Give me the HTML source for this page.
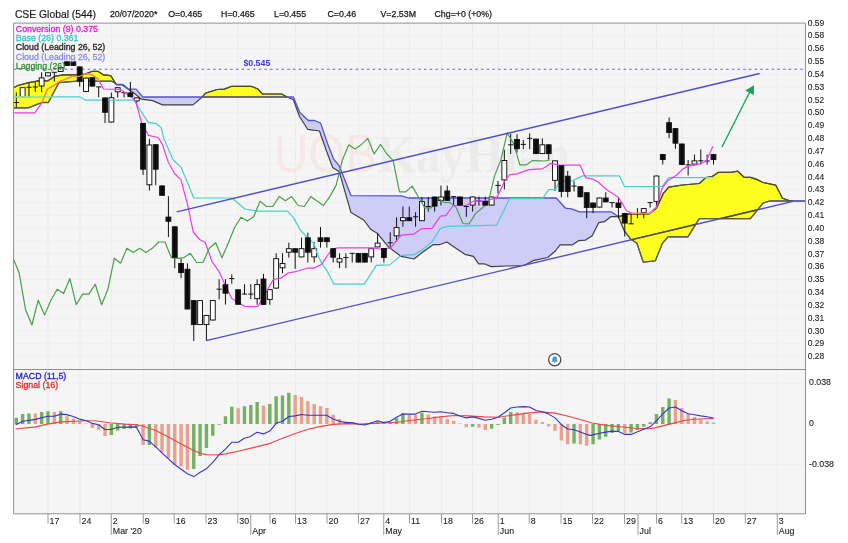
<!DOCTYPE html>
<html lang="en"><head><meta charset="utf-8"><title>CSE Global (544)</title>
<style>
html,body{margin:0;padding:0;background:#fff;}
body{width:848px;height:543px;overflow:hidden;position:relative;font-family:"Liberation Sans", sans-serif;}
svg text{white-space:pre;}
</style></head><body>
<svg width="848" height="543" viewBox="0 0 848 543" style="position:absolute;left:0;top:0;font-family:'Liberation Sans', sans-serif">
<defs>
<clipPath id="cm"><rect x="13.6" y="23.1" width="791.9" height="346.4"/></clipPath>
<clipPath id="cd"><rect x="13.6" y="369.5" width="791.9" height="144.29999999999995"/></clipPath>
</defs>
<rect x="0" y="0" width="848" height="543" fill="#ffffff"/>
<rect x="13.6" y="23.1" width="791.9" height="490.69999999999993" fill="#f5f5f5"/>
<path d="M48.00 23.1V513.8M80.00 23.1V513.8M111.25 23.1V513.8M143.25 23.1V513.8M174.25 23.1V513.8M206.00 23.1V513.8M237.75 23.1V513.8M270.00 23.1V513.8M295.50 23.1V513.8M327.00 23.1V513.8M358.50 23.1V513.8M383.75 23.1V513.8M409.50 23.1V513.8M441.50 23.1V513.8M472.50 23.1V513.8M498.25 23.1V513.8M529.25 23.1V513.8M561.00 23.1V513.8M592.50 23.1V513.8M624.50 23.1V513.8M656.50 23.1V513.8M681.75 23.1V513.8M713.50 23.1V513.8M745.25 23.1V513.8M777.25 23.1V513.8" stroke="#ebebeb" stroke-width="1" fill="none"/>
<path d="M13.6 35.73H805.5M13.6 48.56H805.5M13.6 61.39H805.5M13.6 74.22H805.5M13.6 87.05H805.5M13.6 99.88H805.5M13.6 112.71H805.5M13.6 125.54H805.5M13.6 138.37H805.5M13.6 151.20H805.5M13.6 164.03H805.5M13.6 176.86H805.5M13.6 189.69H805.5M13.6 202.52H805.5M13.6 215.35H805.5M13.6 228.18H805.5M13.6 241.01H805.5M13.6 253.84H805.5M13.6 266.67H805.5M13.6 279.50H805.5M13.6 292.33H805.5M13.6 305.16H805.5M13.6 317.99H805.5M13.6 330.82H805.5M13.6 343.65H805.5M13.6 356.48H805.5M13.6 383.30H805.5M13.6 424.00H805.5M13.6 464.60H805.5" stroke="#efefef" stroke-width="1" fill="none"/>
<text x="274" y="172" font-size="53" fill="#f7e8e8" font-family='"Liberation Sans", sans-serif' textLength="103" lengthAdjust="spacingAndGlyphs">UOB</text>
<text x="377" y="172" font-size="53" font-weight="bold" fill="#ececec" font-family='"Liberation Serif", serif' textLength="193" lengthAdjust="spacingAndGlyphs">KayHian</text>
<g clip-path="url(#cm)">
<polygon points="13.5,87.8 18.5,85.3 28.4,82.7 38.4,80.9 42.6,80.9 48.0,80.8 48.3,80.6 55.0,76.2 58.9,75.6 63.9,74.9 66.7,74.9 76.7,74.9 85.2,74.1 92.3,71.3 97.9,71.3 103.6,74.9 110.7,75.6 112.0,77.7 115.8,83.8 115.8,83.8 112.0,81.2 110.7,81.2 103.6,81.2 97.9,81.2 92.3,81.2 85.2,81.2 76.7,81.2 66.7,82.0 63.9,82.3 58.9,82.7 55.0,90.0 48.3,102.5 48.0,102.5 42.6,102.5 38.4,103.9 28.4,107.8 18.5,107.8 13.5,107.8" fill="#fdfd1e"/>
<polygon points="115.8,83.8 116.4,84.8 116.5,84.8 122.0,84.8 123.0,85.5 128.5,89.4 130.0,90.5 134.5,93.5 136.0,94.8 141.3,99.2 142.7,99.4 152.6,100.6 162.5,104.9 193.0,104.9 202.3,97.0 202.3,97.0 193.0,97.0 162.5,97.0 152.6,97.0 142.7,97.0 141.3,95.4 136.0,89.2 134.5,89.2 130.0,89.0 128.5,89.0 123.0,84.4 122.0,84.4 116.5,84.3 116.4,84.2 115.8,83.8" fill="#cdcdf7"/>
<polygon points="202.3,97.0 205.3,93.3 217.0,89.5 224.4,89.1 231.8,86.3 250.9,86.3 257.3,88.7 262.6,94.0 281.7,94.0 287.0,97.0 287.0,97.0 281.7,97.0 262.6,97.0 257.3,97.0 250.9,97.0 231.8,97.0 224.4,97.0 217.0,97.0 205.3,97.0 202.3,97.0" fill="#fdfd1e"/>
<polygon points="287.0,97.0 293.4,99.7 299.5,116.5 299.8,117.0 307.6,129.3 308.3,129.4 314.6,130.3 319.5,131.0 320.6,134.2 325.6,148.5 327.4,153.3 332.7,167.6 333.7,168.2 339.3,171.8 351.0,212.6 363.7,220.0 370.6,229.2 377.1,233.2 388.5,246.9 401.2,256.4 401.5,256.5 408.5,257.9 414.0,259.0 422.5,252.2 433.1,244.7 439.4,244.7 446.9,242.0 452.2,245.8 464.9,254.3 473.4,256.4 478.7,263.8 484.0,263.8 491.4,266.6 507.4,266.0 524.3,265.5 532.8,260.7 547.7,257.5 555.4,251.0 556.2,249.9 560.1,244.8 565.6,244.8 571.3,244.8 572.4,244.8 579.0,240.6 579.8,240.5 585.6,240.1 592.2,235.8 598.8,222.6 604.4,221.7 611.0,216.5 618.1,216.7 618.3,216.7 618.4,216.6 618.4,216.6 618.3,216.5 618.1,216.4 611.0,211.8 604.4,211.8 598.8,211.8 592.2,211.8 585.6,211.8 579.8,211.8 579.0,211.5 572.4,209.3 571.3,208.9 565.6,208.2 560.1,202.2 556.2,198.0 555.4,198.0 547.7,198.0 532.8,198.0 524.3,198.0 507.4,198.0 491.4,198.0 484.0,198.0 478.7,198.0 473.4,198.0 464.9,198.0 452.2,198.0 446.9,198.0 439.4,198.0 433.1,198.0 422.5,198.0 414.0,198.0 408.5,198.0 401.5,195.8 401.2,195.8 388.5,195.7 377.1,195.7 370.6,195.7 363.7,195.7 351.0,195.6 339.3,165.9 333.7,159.2 332.7,156.7 327.4,143.2 325.6,137.9 320.6,123.1 319.5,122.6 314.6,120.5 308.3,120.5 307.6,119.8 299.8,112.5 299.5,111.8 293.4,97.0 287.0,97.0" fill="#cdcdf7"/>
<polygon points="618.4,216.6 624.1,215.2 629.4,213.9 630.5,213.9 636.9,213.9 643.3,213.9 649.3,213.9 655.3,209.1 656.4,208.2 662.4,195.4 663.3,193.5 668.1,187.8 668.7,187.1 682.5,185.0 687.9,184.5 699.3,183.5 699.4,183.5 705.8,177.6 712.2,176.5 718.5,172.3 731.3,172.3 737.6,171.2 744.0,177.2 750.4,177.4 756.7,179.4 763.1,182.5 769.5,183.9 775.8,185.2 782.5,198.3 789.0,200.5 792.8,201.0 792.8,201.0 789.0,201.0 782.5,201.0 775.8,201.0 769.5,201.0 763.1,203.1 756.7,210.9 750.4,218.6 744.0,218.6 737.6,218.6 731.3,218.6 718.5,218.6 712.2,218.6 705.8,218.6 699.4,218.6 699.3,218.6 687.9,236.9 682.5,236.9 668.7,236.9 668.1,236.9 663.3,242.4 662.4,243.4 656.4,258.1 655.3,260.8 649.3,261.5 643.3,262.2 636.9,243.2 630.5,239.0 629.4,237.5 624.1,230.5 618.4,216.6" fill="#fdfd1e"/>
<polyline points="13.5,87.8 18.5,85.3 28.4,82.7 38.4,80.9 48.0,80.8 55.0,76.2 63.9,74.9 76.7,74.9 85.2,74.1 92.3,71.3 97.9,71.3 103.6,74.9 110.7,75.6 116.4,84.8 122.0,84.8 130.0,90.5 134.5,93.5 141.3,99.2 152.6,100.6 162.5,104.9 193.0,104.9 202.3,97.0 205.3,93.3 217.0,89.5 224.4,89.1 231.8,86.3 250.9,86.3 257.3,88.7 262.6,94.0 281.7,94.0 287.0,97.0 293.4,99.7 299.5,116.5 307.6,129.3 319.5,131.0 325.6,148.5 332.7,167.6 339.3,171.8 351.0,212.6 363.7,220.0 370.6,229.2 377.1,233.2 388.5,246.9 401.2,256.4 414.0,259.0 422.5,252.2 433.1,244.7 439.4,244.7 446.9,242.0 452.2,245.8 464.9,254.3 473.4,256.4 478.7,263.8 484.0,263.8 491.4,266.6 507.4,266.0 524.3,265.5 532.8,260.7 547.7,257.5 555.4,251.0 560.1,244.8 572.4,244.8 579.0,240.6 585.6,240.1 592.2,235.8 598.8,222.6 604.4,221.7 611.0,216.5 618.1,216.7 629.4,213.9 649.3,213.9 656.4,208.2 663.3,193.5 668.7,187.1 682.5,185.0 699.4,183.5 705.8,177.6 712.2,176.5 718.5,172.3 731.3,172.3 737.6,171.2 744.0,177.2 750.4,177.4 756.7,179.4 763.1,182.5 775.8,185.2 782.5,198.3 789.0,200.5 792.8,201.0 806.0,201.0" fill="none" stroke="#404040" stroke-width="1.2" stroke-linejoin="round"/>
<polyline points="13.5,107.8 28.4,107.8 38.4,103.9 42.6,102.5 48.3,102.5 58.9,82.7 66.7,82.0 76.7,81.2 112.0,81.2 116.5,84.3 123.0,84.4 128.5,89.0 136.0,89.2 142.7,97.0 293.4,97.0 299.8,112.5 308.3,120.5 314.6,120.5 320.6,123.1 327.4,143.2 333.7,159.2 339.3,165.9 351.0,195.6 401.5,195.8 408.5,198.0 556.2,198.0 565.6,208.2 571.3,208.9 579.8,211.8 611.0,211.8 618.3,216.5 624.1,230.5 630.5,239.0 636.9,243.2 643.3,262.2 655.3,260.8 662.4,243.4 668.1,236.9 687.9,236.9 699.3,218.6 750.4,218.6 763.1,203.1 769.5,201.0 806.0,201.0" fill="none" stroke="#5252d4" stroke-width="1.3" stroke-linejoin="round"/>
<clipPath id="cy"><polygon points="13.5,87.8 18.5,85.3 28.4,82.7 38.4,80.9 42.6,80.9 48.0,80.8 48.3,80.6 55.0,76.2 58.9,75.6 63.9,74.9 66.7,74.9 76.7,74.9 85.2,74.1 92.3,71.3 97.9,71.3 103.6,74.9 110.7,75.6 112.0,77.7 115.8,83.8 115.8,83.8 112.0,81.2 110.7,81.2 103.6,81.2 97.9,81.2 92.3,81.2 85.2,81.2 76.7,81.2 66.7,82.0 63.9,82.3 58.9,82.7 55.0,90.0 48.3,102.5 48.0,102.5 42.6,102.5 38.4,103.9 28.4,107.8 18.5,107.8 13.5,107.8"/><polygon points="202.3,97.0 205.3,93.3 217.0,89.5 224.4,89.1 231.8,86.3 250.9,86.3 257.3,88.7 262.6,94.0 281.7,94.0 287.0,97.0 287.0,97.0 281.7,97.0 262.6,97.0 257.3,97.0 250.9,97.0 231.8,97.0 224.4,97.0 217.0,97.0 205.3,97.0 202.3,97.0"/><polygon points="618.4,216.6 624.1,215.2 629.4,213.9 630.5,213.9 636.9,213.9 643.3,213.9 649.3,213.9 655.3,209.1 656.4,208.2 662.4,195.4 663.3,193.5 668.1,187.8 668.7,187.1 682.5,185.0 687.9,184.5 699.3,183.5 699.4,183.5 705.8,177.6 712.2,176.5 718.5,172.3 731.3,172.3 737.6,171.2 744.0,177.2 750.4,177.4 756.7,179.4 763.1,182.5 769.5,183.9 775.8,185.2 782.5,198.3 789.0,200.5 792.8,201.0 792.8,201.0 789.0,201.0 782.5,201.0 775.8,201.0 769.5,201.0 763.1,203.1 756.7,210.9 750.4,218.6 744.0,218.6 737.6,218.6 731.3,218.6 718.5,218.6 712.2,218.6 705.8,218.6 699.4,218.6 699.3,218.6 687.9,236.9 682.5,236.9 668.7,236.9 668.1,236.9 663.3,242.4 662.4,243.4 656.4,258.1 655.3,260.8 649.3,261.5 643.3,262.2 636.9,243.2 630.5,239.0 629.4,237.5 624.1,230.5 618.4,216.6"/></clipPath>
<polyline points="13.5,107.8 18.5,107.8 28.4,107.8 38.4,103.9 42.6,102.5 48.0,102.5 48.3,102.5 55.0,90.0 58.9,82.7 63.9,82.3 66.7,82.0 76.7,81.2 85.2,81.2 92.3,81.2 97.9,81.2 103.6,81.2 110.7,81.2 112.0,81.2 115.8,83.8" fill="none" stroke="#606026" stroke-width="1.15" stroke-linejoin="round"/>
<polyline points="13.5,87.8 18.5,85.3 28.4,82.7 38.4,80.9 42.6,80.9 48.0,80.8 48.3,80.6 55.0,76.2 58.9,75.6 63.9,74.9 66.7,74.9 76.7,74.9 85.2,74.1 92.3,71.3 97.9,71.3 103.6,74.9 110.7,75.6 112.0,77.7 115.8,83.8" fill="none" stroke="#50501e" stroke-width="1.15" stroke-linejoin="round"/>
<polyline points="202.3,97.0 205.3,97.0 217.0,97.0 224.4,97.0 231.8,97.0 250.9,97.0 257.3,97.0 262.6,97.0 281.7,97.0 287.0,97.0" fill="none" stroke="#606026" stroke-width="1.15" stroke-linejoin="round"/>
<polyline points="202.3,97.0 205.3,93.3 217.0,89.5 224.4,89.1 231.8,86.3 250.9,86.3 257.3,88.7 262.6,94.0 281.7,94.0 287.0,97.0" fill="none" stroke="#50501e" stroke-width="1.15" stroke-linejoin="round"/>
<polyline points="618.4,216.6 624.1,230.5 629.4,237.5 630.5,239.0 636.9,243.2 643.3,262.2 649.3,261.5 655.3,260.8 656.4,258.1 662.4,243.4 663.3,242.4 668.1,236.9 668.7,236.9 682.5,236.9 687.9,236.9 699.3,218.6 699.4,218.6 705.8,218.6 712.2,218.6 718.5,218.6 731.3,218.6 737.6,218.6 744.0,218.6 750.4,218.6 756.7,210.9 763.1,203.1 769.5,201.0 775.8,201.0 782.5,201.0 789.0,201.0 792.8,201.0" fill="none" stroke="#606026" stroke-width="1.15" stroke-linejoin="round"/>
<polyline points="618.4,216.6 624.1,215.2 629.4,213.9 630.5,213.9 636.9,213.9 643.3,213.9 649.3,213.9 655.3,209.1 656.4,208.2 662.4,195.4 663.3,193.5 668.1,187.8 668.7,187.1 682.5,185.0 687.9,184.5 699.3,183.5 699.4,183.5 705.8,177.6 712.2,176.5 718.5,172.3 731.3,172.3 737.6,171.2 744.0,177.2 750.4,177.4 756.7,179.4 763.1,182.5 769.5,183.9 775.8,185.2 782.5,198.3 789.0,200.5 792.8,201.0" fill="none" stroke="#50501e" stroke-width="1.15" stroke-linejoin="round"/>
<path d="M16.30 92.6V107.5M13.70 102.5H18.90M22.64 87.3V97.1M28.98 82.5V97.5M26.38 87.3H31.58M35.31 82.0V92.0M32.71 87.0H37.91M41.65 72.3V92.0M47.99 72.4V76.3M54.33 72.3V81.6M51.73 72.3H56.93M60.67 67.3V71.9M67.00 61.4V65.8M73.34 61.4V65.8M79.68 66.5V86.6M86.02 77.7V92.0M92.36 77.2V86.5M98.69 86.9V97.2M96.09 86.9H101.29M105.03 97.5V123.0M111.37 92.6V122.4M117.71 87.3V97.5M124.05 92.6V97.5M121.45 92.6H126.65M130.38 82.0V97.0M136.72 97.5V106.3M143.06 123.0V174.9M149.40 138.9V190.5M155.74 144.3V185.2M162.07 185.5V195.7M168.41 196.2V237.1M174.75 226.4V268.3M181.09 258.4V278.3M187.43 263.4V309.4M193.76 300.2V341.0M200.10 300.2V325.0M206.44 315.0V341.0M212.78 300.2V320.4M219.12 279.2V299.3M216.52 289.2H221.72M225.45 279.2V304.6M231.79 274.5V283.8M229.19 278.6H234.39M238.13 289.4V304.7M244.47 284.2V294.1M241.87 294.1H247.07M250.81 284.2V299.1M248.21 294.1H253.41M257.14 279.3V304.8M263.48 273.9V304.8M269.82 289.3V304.8M276.16 253.3V288.5M282.50 253.3V273.2M288.83 242.7V257.6M295.17 248.3V268.9M301.51 237.7V257.3M307.85 232.7V262.5M314.19 242.0V262.5M320.52 227.0V247.6M326.86 237.4V247.6M333.20 248.3V262.5M339.54 253.3V268.2M345.88 253.3V268.2M343.28 257.6H348.48M352.21 253.3V262.5M349.61 253.3H354.81M358.55 253.0V262.5M364.89 253.0V262.5M371.23 248.3V262.5M377.57 233.5V247.3M383.90 248.1V262.5M390.24 232.4V248.0M387.64 242.8H392.84M396.58 217.3V241.7M402.92 206.5V226.8M409.26 206.5V221.1M415.59 212.2V226.8M412.99 216.8H418.19M421.93 197.0V221.1M428.27 197.0V211.6M425.67 206.5H430.87M434.61 196.6V211.6M440.95 185.6V205.5M447.28 185.6V200.8M453.62 196.6V205.5M451.02 196.6H456.22M459.96 196.6V205.5M466.30 206.5V216.8M463.70 206.5H468.90M472.64 196.6V211.6M478.97 196.6V205.5M476.37 201.0H481.57M485.31 196.6V205.5M491.65 196.6V205.5M497.99 181.0V193.5M495.39 185.4H500.59M504.33 149.8V189.5M510.66 133.5V154.0M508.06 144.8H513.26M517.00 134.2V152.6M523.34 139.9V149.1M520.74 144.4H525.94M529.68 133.5V149.1M527.08 138.4H532.28M536.02 138.7V154.0M542.35 138.4V154.0M548.69 144.4V159.7M555.03 160.4V191.0M561.37 165.4V197.2M567.71 171.0V197.2M574.04 181.2V191.5M571.44 186.1H576.64M580.38 186.3V197.2M586.72 192.3V218.2M593.06 202.6V213.2M599.40 197.6V207.5M605.73 192.3V202.3M612.07 202.6V207.5M609.47 202.6H614.67M618.41 197.6V218.2M624.75 213.2V236.5M631.09 213.9V223.8M628.49 223.8H633.69M637.42 208.2V218.2M634.82 213.6H640.02M643.76 208.2V218.4M650.10 202.6V207.5M647.50 202.6H652.70M656.44 175.6V206.8M662.78 154.1V164.5M669.11 117.5V138.2M675.45 128.2V148.9M681.79 143.6V164.9M688.13 160.0V175.5M685.53 164.9H690.73M694.47 154.5V164.5M700.80 149.5V164.5M698.20 160.8H703.40M707.14 154.5V164.5M704.54 161.0H709.74M713.48 154.1V164.5" stroke="#111" stroke-width="1" fill="none"/>
<rect x="20.19" y="87.7" width="4.9" height="9.0" fill="#ffffff" stroke="#000" stroke-width="0.9"/><rect x="39.20" y="77.9" width="4.9" height="8.1" fill="#ffffff" stroke="#000" stroke-width="0.9"/><rect x="45.54" y="72.8" width="4.9" height="3.1" fill="#ffffff" stroke="#000" stroke-width="0.9"/><rect x="58.22" y="67.7" width="4.9" height="3.8" fill="#ffffff" stroke="#000" stroke-width="0.9"/><rect x="83.57" y="78.1" width="4.9" height="13.5" fill="#ffffff" stroke="#000" stroke-width="0.9"/><rect x="108.92" y="97.7" width="4.9" height="24.3" fill="#ffffff" stroke="#000" stroke-width="0.9"/><rect x="115.26" y="87.7" width="4.9" height="4.1" fill="#ffffff" stroke="#000" stroke-width="0.9"/><rect x="134.27" y="97.9" width="4.9" height="3.0" fill="#ffffff" stroke="#000" stroke-width="0.9"/><rect x="146.95" y="145.0" width="4.9" height="39.8" fill="#ffffff" stroke="#000" stroke-width="0.9"/><rect x="197.65" y="300.6" width="4.9" height="24.0" fill="#ffffff" stroke="#000" stroke-width="0.9"/><rect x="203.99" y="315.4" width="4.9" height="9.2" fill="#ffffff" stroke="#000" stroke-width="0.9"/><rect x="210.33" y="300.6" width="4.9" height="19.4" fill="#ffffff" stroke="#000" stroke-width="0.9"/><rect x="254.69" y="284.6" width="4.9" height="14.1" fill="#ffffff" stroke="#000" stroke-width="0.9"/><rect x="267.37" y="289.7" width="4.9" height="9.7" fill="#ffffff" stroke="#000" stroke-width="0.9"/><rect x="273.71" y="258.7" width="4.9" height="29.4" fill="#ffffff" stroke="#000" stroke-width="0.9"/><rect x="280.05" y="263.6" width="4.9" height="4.2" fill="#ffffff" stroke="#000" stroke-width="0.9"/><rect x="286.38" y="248.7" width="4.9" height="3.5" fill="#ffffff" stroke="#000" stroke-width="0.9"/><rect x="299.06" y="248.7" width="4.9" height="8.2" fill="#ffffff" stroke="#000" stroke-width="0.9"/><rect x="311.74" y="248.7" width="4.9" height="8.2" fill="#ffffff" stroke="#000" stroke-width="0.9"/><rect x="337.09" y="258.7" width="4.9" height="3.4" fill="#ffffff" stroke="#000" stroke-width="0.9"/><rect x="368.78" y="248.7" width="4.9" height="8.2" fill="#ffffff" stroke="#000" stroke-width="0.9"/><rect x="375.12" y="243.1" width="4.9" height="3.8" fill="#ffffff" stroke="#000" stroke-width="0.9"/><rect x="394.13" y="227.6" width="4.9" height="8.3" fill="#ffffff" stroke="#000" stroke-width="0.9"/><rect x="400.47" y="217.7" width="4.9" height="3.0" fill="#ffffff" stroke="#000" stroke-width="0.9"/><rect x="419.48" y="201.6" width="4.9" height="19.1" fill="#ffffff" stroke="#000" stroke-width="0.9"/><rect x="438.50" y="197.0" width="4.9" height="3.4" fill="#ffffff" stroke="#000" stroke-width="0.9"/><rect x="470.19" y="197.0" width="4.9" height="8.1" fill="#ffffff" stroke="#000" stroke-width="0.9"/><rect x="489.20" y="197.0" width="4.9" height="8.1" fill="#ffffff" stroke="#000" stroke-width="0.9"/><rect x="501.88" y="160.5" width="4.9" height="19.4" fill="#ffffff" stroke="#000" stroke-width="0.9"/><rect x="539.90" y="144.8" width="4.9" height="8.8" fill="#ffffff" stroke="#000" stroke-width="0.9"/><rect x="552.58" y="160.8" width="4.9" height="19.5" fill="#ffffff" stroke="#000" stroke-width="0.9"/><rect x="596.95" y="198.0" width="4.9" height="9.1" fill="#ffffff" stroke="#000" stroke-width="0.9"/><rect x="641.31" y="208.6" width="4.9" height="3.8" fill="#ffffff" stroke="#000" stroke-width="0.9"/><rect x="653.99" y="176.0" width="4.9" height="25.4" fill="#ffffff" stroke="#000" stroke-width="0.9"/><rect x="692.02" y="160.9" width="4.9" height="3.2" fill="#ffffff" stroke="#000" stroke-width="0.9"/>
<path d="M13.6 69.3H805.5" stroke="#665eda" stroke-width="1.1" stroke-dasharray="2.5 3.2" fill="none"/>
<polyline points="13.5,96.8 79.5,96.8 85.2,100.1 130.0,100.1 134.0,100.5 139.1,108.4 148.4,122.6 155.5,123.3 161.1,127.5 164.0,138.9 173.2,160.0 181.0,167.1 193.8,198.0 232.0,198.0 244.9,209.0 257.6,211.1 287.3,211.1 293.7,217.9 300.0,229.6 308.5,239.0 314.0,243.2 317.0,253.2 321.3,262.5 326.7,270.3 333.8,284.1 364.3,284.1 376.3,265.4 389.6,264.9 401.2,255.4 414.0,254.7 422.5,249.6 432.0,241.6 440.5,228.4 447.9,226.3 496.7,225.2 509.5,198.7 542.4,198.7 548.8,189.6 555.7,189.6 559.2,181.3 572.7,180.6 582.6,175.9 619.5,175.9 624.5,186.5 662.1,186.5 668.7,177.6 713.5,177.6" fill="none" stroke="#45cfcf" stroke-width="1.2" stroke-linejoin="round"/>
<polyline points="13.5,112.9 34.8,112.9 41.2,103.9 47.6,89.0 54.0,85.5 58.9,82.0 72.4,76.3 79.5,76.3 86.6,73.4 92.4,75.0 98.0,79.1 103.6,89.0 120.0,89.3 128.5,95.0 135.6,100.6 141.3,121.9 148.4,135.4 158.3,137.5 162.5,144.6 168.2,162.0 174.6,173.5 181.0,179.9 188.1,206.8 193.2,232.0 199.5,239.5 205.1,242.3 212.2,262.0 219.3,271.9 225.5,286.0 232.0,298.8 238.5,302.5 245.1,306.5 257.9,306.5 267.1,290.2 273.5,279.3 281.3,278.1 287.7,273.2 295.5,271.7 306.8,268.2 313.9,268.2 321.0,264.6 332.3,249.0 338.0,247.9 373.5,247.9 380.0,249.0 390.6,247.9 401.2,235.2 414.0,234.1 421.4,228.8 432.0,228.4 440.5,216.1 445.8,215.7 453.2,205.5 466.0,205.5 473.4,201.2 487.0,201.1 497.5,196.6 504.4,181.5 509.8,174.6 516.9,173.9 528.9,169.6 542.4,168.9 550.9,163.3 559.4,165.1 580.0,165.1 585.7,177.7 592.6,179.1 598.2,182.0 606.7,189.8 618.1,196.9 626.6,210.8 632.3,213.3 649.3,213.3 656.4,207.2 662.1,188.4 667.6,180.8 676.1,175.5 682.5,169.1 688.8,165.9 697.3,164.6 706.2,161.3 712.9,146.3" fill="none" stroke="#ec3aec" stroke-width="1.2" stroke-linejoin="round"/>
<polyline points="12.9,257.7 19.2,273.0 25.5,309.4 31.9,325.0 38.2,300.2 44.6,315.0 50.9,300.2 57.2,289.2 63.6,293.6 69.9,278.6 76.2,304.7 82.6,294.1 88.9,294.1 95.3,284.2 101.6,304.8 107.9,289.3 114.3,258.3 120.6,263.2 126.9,248.3 133.3,252.6 139.6,248.3 146.0,252.6 152.3,248.3 158.6,242.0 165.0,242.0 171.3,257.6 177.7,258.3 184.0,257.6 190.3,253.3 196.7,262.5 203.0,262.5 209.3,248.3 215.7,242.7 222.0,257.8 228.4,242.8 234.7,227.2 241.0,217.3 247.4,221.1 253.7,216.8 260.0,201.2 266.4,206.5 272.7,206.5 279.1,196.6 285.4,200.8 291.7,196.6 298.1,205.5 304.4,206.5 310.7,196.6 317.1,201.0 323.4,205.5 329.8,196.6 336.1,185.4 342.4,160.1 348.8,144.8 355.1,149.1 361.5,144.4 367.8,138.4 374.1,154.0 380.5,144.4 386.8,154.0 393.1,160.4 399.5,191.8 405.8,191.8 412.2,186.1 418.5,197.2 424.8,207.9 431.2,207.9 437.5,197.6 443.8,202.3 450.2,202.6 456.5,207.9 462.9,223.5 469.2,223.8 475.5,213.6 481.9,208.2 488.2,202.6 494.6,175.6 500.9,159.9 507.2,132.8 513.6,143.6 519.9,164.9 526.2,164.9 532.6,160.5 538.9,160.8 545.3,161.0 549.6,159.9" fill="none" stroke="#4aa04a" stroke-width="1.2" stroke-linejoin="round"/>
<g opacity="0.93"><rect x="64.55" y="61.8" width="4.9" height="3.6" fill="#000000" stroke="#000" stroke-width="0.9"/><rect x="70.89" y="61.8" width="4.9" height="3.6" fill="#000000" stroke="#000" stroke-width="0.9"/><rect x="77.23" y="66.9" width="4.9" height="14.2" fill="#000000" stroke="#000" stroke-width="0.9"/><rect x="89.91" y="77.6" width="4.9" height="8.5" fill="#000000" stroke="#000" stroke-width="0.9"/><rect x="102.58" y="97.9" width="4.9" height="14.4" fill="#000000" stroke="#000" stroke-width="0.9"/><rect x="127.93" y="92.9" width="4.9" height="3.7" fill="#000000" stroke="#000" stroke-width="0.9"/><rect x="140.61" y="123.4" width="4.9" height="45.8" fill="#000000" stroke="#000" stroke-width="0.9"/><rect x="153.29" y="144.7" width="4.9" height="24.5" fill="#000000" stroke="#000" stroke-width="0.9"/><rect x="159.62" y="185.9" width="4.9" height="9.4" fill="#000000" stroke="#000" stroke-width="0.9"/><rect x="165.96" y="217.1" width="4.9" height="4.2" fill="#000000" stroke="#000" stroke-width="0.9"/><rect x="172.30" y="226.8" width="4.9" height="30.5" fill="#000000" stroke="#000" stroke-width="0.9"/><rect x="178.64" y="263.5" width="4.9" height="9.1" fill="#000000" stroke="#000" stroke-width="0.9"/><rect x="184.98" y="269.2" width="4.9" height="39.8" fill="#000000" stroke="#000" stroke-width="0.9"/><rect x="191.31" y="300.6" width="4.9" height="24.0" fill="#000000" stroke="#000" stroke-width="0.9"/><rect x="223.00" y="284.7" width="4.9" height="8.5" fill="#000000" stroke="#000" stroke-width="0.9"/><rect x="235.68" y="289.8" width="4.9" height="14.5" fill="#000000" stroke="#000" stroke-width="0.9"/><rect x="261.03" y="279.0" width="4.9" height="25.4" fill="#000000" stroke="#000" stroke-width="0.9"/><rect x="292.72" y="248.7" width="4.9" height="3.5" fill="#000000" stroke="#000" stroke-width="0.9"/><rect x="305.40" y="237.8" width="4.9" height="14.4" fill="#000000" stroke="#000" stroke-width="0.9"/><rect x="318.07" y="237.8" width="4.9" height="3.8" fill="#000000" stroke="#000" stroke-width="0.9"/><rect x="324.41" y="237.8" width="4.9" height="3.8" fill="#000000" stroke="#000" stroke-width="0.9"/><rect x="330.75" y="248.7" width="4.9" height="8.5" fill="#000000" stroke="#000" stroke-width="0.9"/><rect x="356.10" y="253.4" width="4.9" height="8.7" fill="#000000" stroke="#000" stroke-width="0.9"/><rect x="362.44" y="253.4" width="4.9" height="8.7" fill="#000000" stroke="#000" stroke-width="0.9"/><rect x="381.45" y="248.5" width="4.9" height="8.9" fill="#000000" stroke="#000" stroke-width="0.9"/><rect x="406.81" y="217.7" width="4.9" height="3.0" fill="#000000" stroke="#000" stroke-width="0.9"/><rect x="432.16" y="197.0" width="4.9" height="9.1" fill="#000000" stroke="#000" stroke-width="0.9"/><rect x="444.83" y="191.0" width="4.9" height="9.4" fill="#000000" stroke="#000" stroke-width="0.9"/><rect x="457.51" y="197.0" width="4.9" height="8.1" fill="#000000" stroke="#000" stroke-width="0.9"/><rect x="482.86" y="201.6" width="4.9" height="3.5" fill="#000000" stroke="#000" stroke-width="0.9"/><rect x="514.55" y="139.5" width="4.9" height="9.2" fill="#000000" stroke="#000" stroke-width="0.9"/><rect x="533.57" y="139.1" width="4.9" height="14.5" fill="#000000" stroke="#000" stroke-width="0.9"/><rect x="546.24" y="144.8" width="4.9" height="8.8" fill="#000000" stroke="#000" stroke-width="0.9"/><rect x="558.92" y="165.8" width="4.9" height="25.6" fill="#000000" stroke="#000" stroke-width="0.9"/><rect x="565.26" y="176.2" width="4.9" height="15.2" fill="#000000" stroke="#000" stroke-width="0.9"/><rect x="577.93" y="186.7" width="4.9" height="10.1" fill="#000000" stroke="#000" stroke-width="0.9"/><rect x="584.27" y="192.7" width="4.9" height="14.8" fill="#000000" stroke="#000" stroke-width="0.9"/><rect x="590.61" y="203.0" width="4.9" height="4.5" fill="#000000" stroke="#000" stroke-width="0.9"/><rect x="603.28" y="198.0" width="4.9" height="3.9" fill="#000000" stroke="#000" stroke-width="0.9"/><rect x="615.96" y="203.0" width="4.9" height="4.5" fill="#000000" stroke="#000" stroke-width="0.9"/><rect x="622.30" y="213.6" width="4.9" height="9.5" fill="#000000" stroke="#000" stroke-width="0.9"/><rect x="660.33" y="154.5" width="4.9" height="5.0" fill="#000000" stroke="#000" stroke-width="0.9"/><rect x="666.66" y="122.7" width="4.9" height="9.7" fill="#000000" stroke="#000" stroke-width="0.9"/><rect x="673.00" y="128.6" width="4.9" height="14.6" fill="#000000" stroke="#000" stroke-width="0.9"/><rect x="679.34" y="144.0" width="4.9" height="20.5" fill="#000000" stroke="#000" stroke-width="0.9"/><rect x="711.03" y="154.5" width="4.9" height="5.0" fill="#000000" stroke="#000" stroke-width="0.9"/></g>
<path d="M176.7 211.8L759.6 73.5" stroke="#504ccf" stroke-width="1.35" fill="none"/>
<path d="M206.1 340.7L793 201.4" stroke="#504ccf" stroke-width="1.35" fill="none"/>
<g clip-path="url(#cy)">
<polyline points="13.5,96.8 79.5,96.8 85.2,100.1 130.0,100.1 134.0,100.5 139.1,108.4 148.4,122.6 155.5,123.3 161.1,127.5 164.0,138.9 173.2,160.0 181.0,167.1 193.8,198.0 232.0,198.0 244.9,209.0 257.6,211.1 287.3,211.1 293.7,217.9 300.0,229.6 308.5,239.0 314.0,243.2 317.0,253.2 321.3,262.5 326.7,270.3 333.8,284.1 364.3,284.1 376.3,265.4 389.6,264.9 401.2,255.4 414.0,254.7 422.5,249.6 432.0,241.6 440.5,228.4 447.9,226.3 496.7,225.2 509.5,198.7 542.4,198.7 548.8,189.6 555.7,189.6 559.2,181.3 572.7,180.6 582.6,175.9 619.5,175.9 624.5,186.5 662.1,186.5 668.7,177.6 713.5,177.6" fill="none" stroke="#a6e69a" stroke-width="1.2" stroke-linejoin="round"/>
<polyline points="13.5,112.9 34.8,112.9 41.2,103.9 47.6,89.0 54.0,85.5 58.9,82.0 72.4,76.3 79.5,76.3 86.6,73.4 92.4,75.0 98.0,79.1 103.6,89.0 120.0,89.3 128.5,95.0 135.6,100.6 141.3,121.9 148.4,135.4 158.3,137.5 162.5,144.6 168.2,162.0 174.6,173.5 181.0,179.9 188.1,206.8 193.2,232.0 199.5,239.5 205.1,242.3 212.2,262.0 219.3,271.9 225.5,286.0 232.0,298.8 238.5,302.5 245.1,306.5 257.9,306.5 267.1,290.2 273.5,279.3 281.3,278.1 287.7,273.2 295.5,271.7 306.8,268.2 313.9,268.2 321.0,264.6 332.3,249.0 338.0,247.9 373.5,247.9 380.0,249.0 390.6,247.9 401.2,235.2 414.0,234.1 421.4,228.8 432.0,228.4 440.5,216.1 445.8,215.7 453.2,205.5 466.0,205.5 473.4,201.2 487.0,201.1 497.5,196.6 504.4,181.5 509.8,174.6 516.9,173.9 528.9,169.6 542.4,168.9 550.9,163.3 559.4,165.1 580.0,165.1 585.7,177.7 592.6,179.1 598.2,182.0 606.7,189.8 618.1,196.9 626.6,210.8 632.3,213.3 649.3,213.3 656.4,207.2 662.1,188.4 667.6,180.8 676.1,175.5 682.5,169.1 688.8,165.9 697.3,164.6 706.2,161.3 712.9,146.3" fill="none" stroke="#f09a3c" stroke-width="1.2" stroke-linejoin="round"/>
<path d="M206.1 340.7L793 201.4" stroke="#505018" stroke-width="1.3" fill="none"/>
</g>
<path d="M630.5 213.3L650.5 213.3L654 210.6" stroke="#ee8c50" stroke-width="1.3" fill="none"/>
<g>
</g>
</g>
<path d="M722 147L750 91.5" stroke="#18a35f" stroke-width="1.4" fill="none"/>
<polygon points="754,85.3 745.2,90.4 753.9,95" fill="#18a35f"/>
<circle cx="554.7" cy="359.7" r="6.1" fill="#ffffff" stroke="#4a4a4a" stroke-width="1.3"/>
<path d="M554.7 356.2c-1.5 0-2.3 1.2-2.3 2.7v1.6l-1 1.3h6.6l-1-1.3v-1.6c0-1.5-0.8-2.7-2.3-2.7z M553.9 362.3a0.8 0.8 0 0 0 1.6 0z" fill="#4a98d8"/>
<g clip-path="url(#cd)">
<path d="M14.60 417.7h3.4V424.0h-3.4zM20.94 414.1h3.4V424.0h-3.4zM27.28 413.4h3.4V424.0h-3.4zM39.95 412.0h3.4V424.0h-3.4zM46.29 411.3h3.4V424.0h-3.4zM58.97 411.3h3.4V424.0h-3.4zM109.67 424.0h3.4V435.0h-3.4zM116.01 424.0h3.4V430.5h-3.4zM122.35 424.0h3.4V429.0h-3.4zM128.68 424.0h3.4V428.4h-3.4zM135.02 424.0h3.4V427.5h-3.4zM147.70 424.0h3.4V445.1h-3.4zM192.06 424.0h3.4V469.1h-3.4zM198.40 424.0h3.4V456.0h-3.4zM204.74 424.0h3.4V447.9h-3.4zM211.08 424.0h3.4V435.7h-3.4zM217.42 424.0h3.4V424.8h-3.4zM223.75 416.3h3.4V424.0h-3.4zM230.09 406.8h3.4V424.0h-3.4zM242.77 406.3h3.4V424.0h-3.4zM249.11 405.1h3.4V424.0h-3.4zM255.44 402.0h3.4V424.0h-3.4zM268.12 404.1h3.4V424.0h-3.4zM274.46 396.3h3.4V424.0h-3.4zM280.80 395.6h3.4V424.0h-3.4zM287.13 392.8h3.4V424.0h-3.4zM369.53 422.2h3.4V424.0h-3.4zM375.87 421.6h3.4V424.0h-3.4zM388.54 422.2h3.4V424.0h-3.4zM394.88 418.3h3.4V424.0h-3.4zM401.22 413.1h3.4V424.0h-3.4zM420.23 412.7h3.4V424.0h-3.4zM470.94 424.0h3.4V426.8h-3.4zM489.95 424.0h3.4V428.7h-3.4zM496.29 424.0h3.4V425.0h-3.4zM502.63 417.6h3.4V424.0h-3.4zM508.96 412.0h3.4V424.0h-3.4zM572.34 424.0h3.4V443.4h-3.4zM591.36 424.0h3.4V444.3h-3.4zM597.70 424.0h3.4V439.6h-3.4zM604.03 424.0h3.4V436.8h-3.4zM610.37 424.0h3.4V432.9h-3.4zM616.71 424.0h3.4V431.1h-3.4zM629.39 424.0h3.4V432.5h-3.4zM635.72 424.0h3.4V430.1h-3.4zM642.06 424.0h3.4V426.8h-3.4zM648.40 422.2h3.4V424.0h-3.4zM654.74 414.1h3.4V424.0h-3.4zM661.08 407.0h3.4V424.0h-3.4zM667.41 398.5h3.4V424.0h-3.4z" fill="#74b062"/>
<path d="M33.61 413.4h3.4V424.0h-3.4zM52.63 412.0h3.4V424.0h-3.4zM65.30 416.3h3.4V424.0h-3.4zM71.64 418.4h3.4V424.0h-3.4zM77.98 421.2h3.4V424.0h-3.4zM84.32 423.4h3.4V424.0h-3.4zM90.66 424.0h3.4V427.9h-3.4zM96.99 424.0h3.4V429.8h-3.4zM103.33 424.0h3.4V436.1h-3.4zM141.36 424.0h3.4V445.1h-3.4zM154.04 424.0h3.4V447.5h-3.4zM160.37 424.0h3.4V452.5h-3.4zM166.71 424.0h3.4V458.2h-3.4zM173.05 424.0h3.4V464.5h-3.4zM179.39 424.0h3.4V466.4h-3.4zM185.73 424.0h3.4V469.8h-3.4zM236.43 408.2h3.4V424.0h-3.4zM261.78 405.6h3.4V424.0h-3.4zM293.47 394.9h3.4V424.0h-3.4zM299.81 397.1h3.4V424.0h-3.4zM306.15 401.3h3.4V424.0h-3.4zM312.49 404.1h3.4V424.0h-3.4zM318.82 406.3h3.4V424.0h-3.4zM325.16 408.0h3.4V424.0h-3.4zM331.50 414.8h3.4V424.0h-3.4zM337.84 419.0h3.4V424.0h-3.4zM344.18 421.6h3.4V424.0h-3.4zM350.51 422.6h3.4V424.0h-3.4zM356.85 423.6h3.4V424.2h-3.4zM363.19 424.0h3.4V425.0h-3.4zM382.20 422.8h3.4V424.0h-3.4zM407.56 415.1h3.4V424.0h-3.4zM413.89 415.1h3.4V424.0h-3.4zM426.57 414.5h3.4V424.0h-3.4zM432.91 416.5h3.4V424.0h-3.4zM439.25 416.5h3.4V424.0h-3.4zM445.58 419.0h3.4V424.0h-3.4zM451.92 420.7h3.4V424.0h-3.4zM458.26 423.4h3.4V424.0h-3.4zM464.60 424.0h3.4V427.3h-3.4zM477.27 424.0h3.4V427.6h-3.4zM483.61 424.0h3.4V430.1h-3.4zM515.30 412.2h3.4V424.0h-3.4zM521.64 414.1h3.4V424.0h-3.4zM527.98 414.1h3.4V424.0h-3.4zM534.32 419.8h3.4V424.0h-3.4zM540.65 421.9h3.4V424.0h-3.4zM546.99 424.0h3.4V426.4h-3.4zM553.33 424.0h3.4V430.7h-3.4zM559.67 424.0h3.4V440.6h-3.4zM566.01 424.0h3.4V444.3h-3.4zM578.68 424.0h3.4V444.3h-3.4zM585.02 424.0h3.4V445.7h-3.4zM623.05 424.0h3.4V433.2h-3.4zM673.75 399.9h3.4V424.0h-3.4zM680.09 408.0h3.4V424.0h-3.4zM686.43 414.1h3.4V424.0h-3.4zM692.77 416.9h3.4V424.0h-3.4zM699.10 419.8h3.4V424.0h-3.4zM705.44 421.5h3.4V424.0h-3.4zM711.78 422.5h3.4V424.0h-3.4z" fill="#e9a08c"/>
<polyline points="15.7,429.0 35.5,426.9 47.6,424.1 61.1,421.9 73.8,421.2 86.6,420.8 95.1,420.8 109.3,422.7 125.0,424.1 136.3,424.8 143.2,426.2 155.8,430.5 168.4,436.9 181.2,444.0 193.8,450.4 200.2,453.2 206.4,454.6 212.8,455.0 219.2,454.6 225.6,453.9 238.2,451.3 254.2,447.4 268.4,443.9 282.6,438.2 296.7,433.0 308.1,429.3 320.9,426.4 333.6,424.4 346.4,423.6 360.0,424.1 369.2,423.6 383.4,423.0 397.6,422.2 411.7,420.2 425.9,418.8 440.1,416.9 454.3,415.5 468.5,415.9 484.2,416.9 498.4,417.3 512.6,415.1 526.7,413.1 540.9,411.9 555.1,413.1 569.3,416.5 583.5,420.5 592.1,423.0 606.3,425.4 620.5,426.8 634.6,428.3 648.8,428.7 655.9,427.6 664.4,425.4 675.8,422.6 684.3,420.5 694.2,419.3 705.0,418.8 713.5,418.6" fill="none" stroke="#f04444" stroke-width="1.1" stroke-linejoin="round"/>
<polyline points="15.7,424.8 22.8,421.2 35.5,419.4 47.6,416.3 54.0,416.3 61.1,414.1 66.7,414.6 72.4,416.3 79.5,419.1 86.6,420.8 92.3,423.4 98.7,424.8 104.8,429.5 110.7,429.5 117.8,427.3 136.3,426.9 143.2,439.7 149.1,441.1 155.8,446.8 162.2,453.2 168.4,458.9 174.6,464.5 181.2,469.2 187.4,473.8 193.8,476.6 200.2,472.3 206.4,468.8 212.8,462.4 219.2,454.6 225.6,448.9 231.8,442.3 238.2,442.3 244.4,438.3 249.9,436.8 257.0,432.2 263.4,433.9 269.8,431.1 276.2,423.3 282.6,421.2 288.9,416.5 295.2,415.9 301.6,414.5 307.8,415.2 326.5,415.2 333.2,419.0 339.6,421.2 345.9,422.6 352.2,422.6 358.6,424.2 364.9,425.0 371.2,423.0 377.6,420.7 383.9,422.6 390.2,421.2 396.6,417.3 402.9,414.1 415.6,414.1 421.9,411.2 428.3,411.7 434.6,412.2 440.9,411.7 447.3,412.7 453.6,413.4 459.9,415.9 466.3,417.9 472.6,416.9 477.1,417.9 485.3,420.2 491.7,419.3 498.0,417.3 504.4,412.7 510.7,408.0 517.0,407.0 523.4,406.6 529.7,407.0 536.0,410.5 542.4,411.7 548.7,414.1 555.1,417.9 561.4,424.7 567.7,429.0 574.1,429.7 580.4,432.1 586.8,434.6 590.7,435.4 599.5,433.2 605.8,432.1 612.1,431.1 618.5,431.5 624.9,434.4 631.1,434.4 637.5,431.8 643.9,429.3 650.1,426.8 656.5,420.7 662.7,414.1 669.1,408.0 675.5,407.0 681.7,410.8 688.3,413.7 694.5,414.8 700.7,415.9 707.0,416.8 713.5,418.0" fill="none" stroke="#3434d0" stroke-width="1.1" stroke-linejoin="round"/>
</g>
<path d="M13.6 23.1H805.5V513.8H13.6Z M13.6 369.5H805.5" stroke="#909090" stroke-width="1" fill="none"/>
<path d="M48.00 513.8V523.6M80.00 513.8V523.6M111.25 513.8V535M143.25 513.8V523.6M174.25 513.8V523.6M206.00 513.8V523.6M237.75 513.8V523.6M250.75 513.8V535M270.00 513.8V523.6M295.50 513.8V523.6M327.00 513.8V523.6M358.50 513.8V523.6M383.75 513.8V535M409.50 513.8V523.6M441.50 513.8V523.6M472.50 513.8V523.6M498.25 513.8V535M529.25 513.8V523.6M561.00 513.8V523.6M592.50 513.8V523.6M624.50 513.8V523.6M638.00 513.8V535M656.50 513.8V523.6M681.75 513.8V523.6M713.50 513.8V523.6M745.25 513.8V523.6M777.25 513.8V535" stroke="#9a9a9a" stroke-width="1" fill="none"/>
<g font-size="8.8" fill="#222" stroke="#222" stroke-width="0.1">
<text x="49.60" y="523.9">17</text>
<text x="81.60" y="523.9">24</text>
<text x="112.85" y="523.9">2</text>
<text x="112.85" y="533.9">Mar '20</text>
<text x="144.85" y="523.9">9</text>
<text x="175.85" y="523.9">16</text>
<text x="207.60" y="523.9">23</text>
<text x="239.35" y="523.9">30</text>
<text x="252.35" y="533.9">Apr</text>
<text x="271.60" y="523.9">6</text>
<text x="297.10" y="523.9">13</text>
<text x="328.60" y="523.9">20</text>
<text x="360.10" y="523.9">27</text>
<text x="385.35" y="523.9">4</text>
<text x="385.35" y="533.9">May</text>
<text x="411.10" y="523.9">11</text>
<text x="443.10" y="523.9">18</text>
<text x="474.10" y="523.9">26</text>
<text x="499.85" y="523.9">1</text>
<text x="499.85" y="533.9">Jun</text>
<text x="530.85" y="523.9">8</text>
<text x="562.60" y="523.9">15</text>
<text x="594.10" y="523.9">22</text>
<text x="626.10" y="523.9">29</text>
<text x="639.60" y="533.9">Jul</text>
<text x="658.10" y="523.9">6</text>
<text x="683.35" y="523.9">13</text>
<text x="715.10" y="523.9">20</text>
<text x="746.85" y="523.9">27</text>
<text x="778.85" y="523.9">3</text>
<text x="778.85" y="533.9">Aug</text>
<text x="807.7" y="25.60" textLength="16.5" lengthAdjust="spacingAndGlyphs">0.59</text>
<text x="807.7" y="38.43" textLength="16.5" lengthAdjust="spacingAndGlyphs">0.58</text>
<text x="807.7" y="51.26" textLength="16.5" lengthAdjust="spacingAndGlyphs">0.56</text>
<text x="807.7" y="64.09" textLength="16.5" lengthAdjust="spacingAndGlyphs">0.55</text>
<text x="807.7" y="76.92" textLength="16.5" lengthAdjust="spacingAndGlyphs">0.54</text>
<text x="807.7" y="89.75" textLength="16.5" lengthAdjust="spacingAndGlyphs">0.53</text>
<text x="807.7" y="102.58" textLength="16.5" lengthAdjust="spacingAndGlyphs">0.52</text>
<text x="807.7" y="115.41" textLength="16.5" lengthAdjust="spacingAndGlyphs">0.50</text>
<text x="807.7" y="128.24" textLength="16.5" lengthAdjust="spacingAndGlyphs">0.49</text>
<text x="807.7" y="141.07" textLength="16.5" lengthAdjust="spacingAndGlyphs">0.48</text>
<text x="807.7" y="153.90" textLength="16.5" lengthAdjust="spacingAndGlyphs">0.47</text>
<text x="807.7" y="166.73" textLength="16.5" lengthAdjust="spacingAndGlyphs">0.46</text>
<text x="807.7" y="179.56" textLength="16.5" lengthAdjust="spacingAndGlyphs">0.44</text>
<text x="807.7" y="192.39" textLength="16.5" lengthAdjust="spacingAndGlyphs">0.43</text>
<text x="807.7" y="205.22" textLength="16.5" lengthAdjust="spacingAndGlyphs">0.42</text>
<text x="807.7" y="218.05" textLength="16.5" lengthAdjust="spacingAndGlyphs">0.41</text>
<text x="807.7" y="230.88" textLength="16.5" lengthAdjust="spacingAndGlyphs">0.40</text>
<text x="807.7" y="243.71" textLength="16.5" lengthAdjust="spacingAndGlyphs">0.38</text>
<text x="807.7" y="256.54" textLength="16.5" lengthAdjust="spacingAndGlyphs">0.37</text>
<text x="807.7" y="269.37" textLength="16.5" lengthAdjust="spacingAndGlyphs">0.36</text>
<text x="807.7" y="282.20" textLength="16.5" lengthAdjust="spacingAndGlyphs">0.35</text>
<text x="807.7" y="295.03" textLength="16.5" lengthAdjust="spacingAndGlyphs">0.34</text>
<text x="807.7" y="307.86" textLength="16.5" lengthAdjust="spacingAndGlyphs">0.32</text>
<text x="807.7" y="320.69" textLength="16.5" lengthAdjust="spacingAndGlyphs">0.31</text>
<text x="807.7" y="333.52" textLength="16.5" lengthAdjust="spacingAndGlyphs">0.30</text>
<text x="807.7" y="346.35" textLength="16.5" lengthAdjust="spacingAndGlyphs">0.29</text>
<text x="807.7" y="359.18" textLength="16.5" lengthAdjust="spacingAndGlyphs">0.28</text>
<text x="809" y="385.0">0.038</text>
<text x="809" y="425.8">0</text>
<text x="809" y="466.5">-0.038</text>
</g>
<text x="14.9" y="17.8" font-size="10.35" fill="#1a1a1a" stroke="#1a1a1a" stroke-width="0.2">CSE Global (544)</text>
<g font-size="8.8" fill="#1a1a1a" stroke="#1a1a1a" stroke-width="0.25">
<text x="109.9" y="16.8">20/07/2020*</text>
<text x="168.2" y="16.8">O=0.465</text>
<text x="221.1" y="16.8">H=0.465</text>
<text x="274.0" y="16.8">L=0.455</text>
<text x="327.5" y="16.8">C=0.46</text>
<text x="380.5" y="16.8">V=2.53M</text>
<text x="434.5" y="16.8">Chg=+0 (+0%)</text>
</g>
<g font-size="8.8">
<text x="15.8" y="31.5" fill="#e020e0" stroke="#e020e0" stroke-width="0.3">Conversion (9) 0.375</text>
<text x="15.8" y="40.9" fill="#30c8c8" stroke="#30c8c8" stroke-width="0.3">Base (26) 0.361</text>
<text x="15.8" y="50.3" fill="#222" stroke="#222" stroke-width="0.3">Cloud (Leading 26, 52)</text>
<text x="15.8" y="59.7" fill="#8c8cee" stroke="#8c8cee" stroke-width="0.3">Cloud (Leading 26, 52)</text>
<text x="15.8" y="69.1" fill="#2f932f" stroke="#2f932f" stroke-width="0.3">Lagging (26)</text>
<text x="243.4" y="66.2" fill="#4038cc" font-weight="bold">$0.545</text>
<text x="15.6" y="378.8" fill="#2222cc" stroke="#2222cc" stroke-width="0.3">MACD (11,5)</text>
<text x="15.6" y="387.9" fill="#e02a2a" stroke="#e02a2a" stroke-width="0.3">Signal (16)</text>
</g>
</svg>
</body></html>
